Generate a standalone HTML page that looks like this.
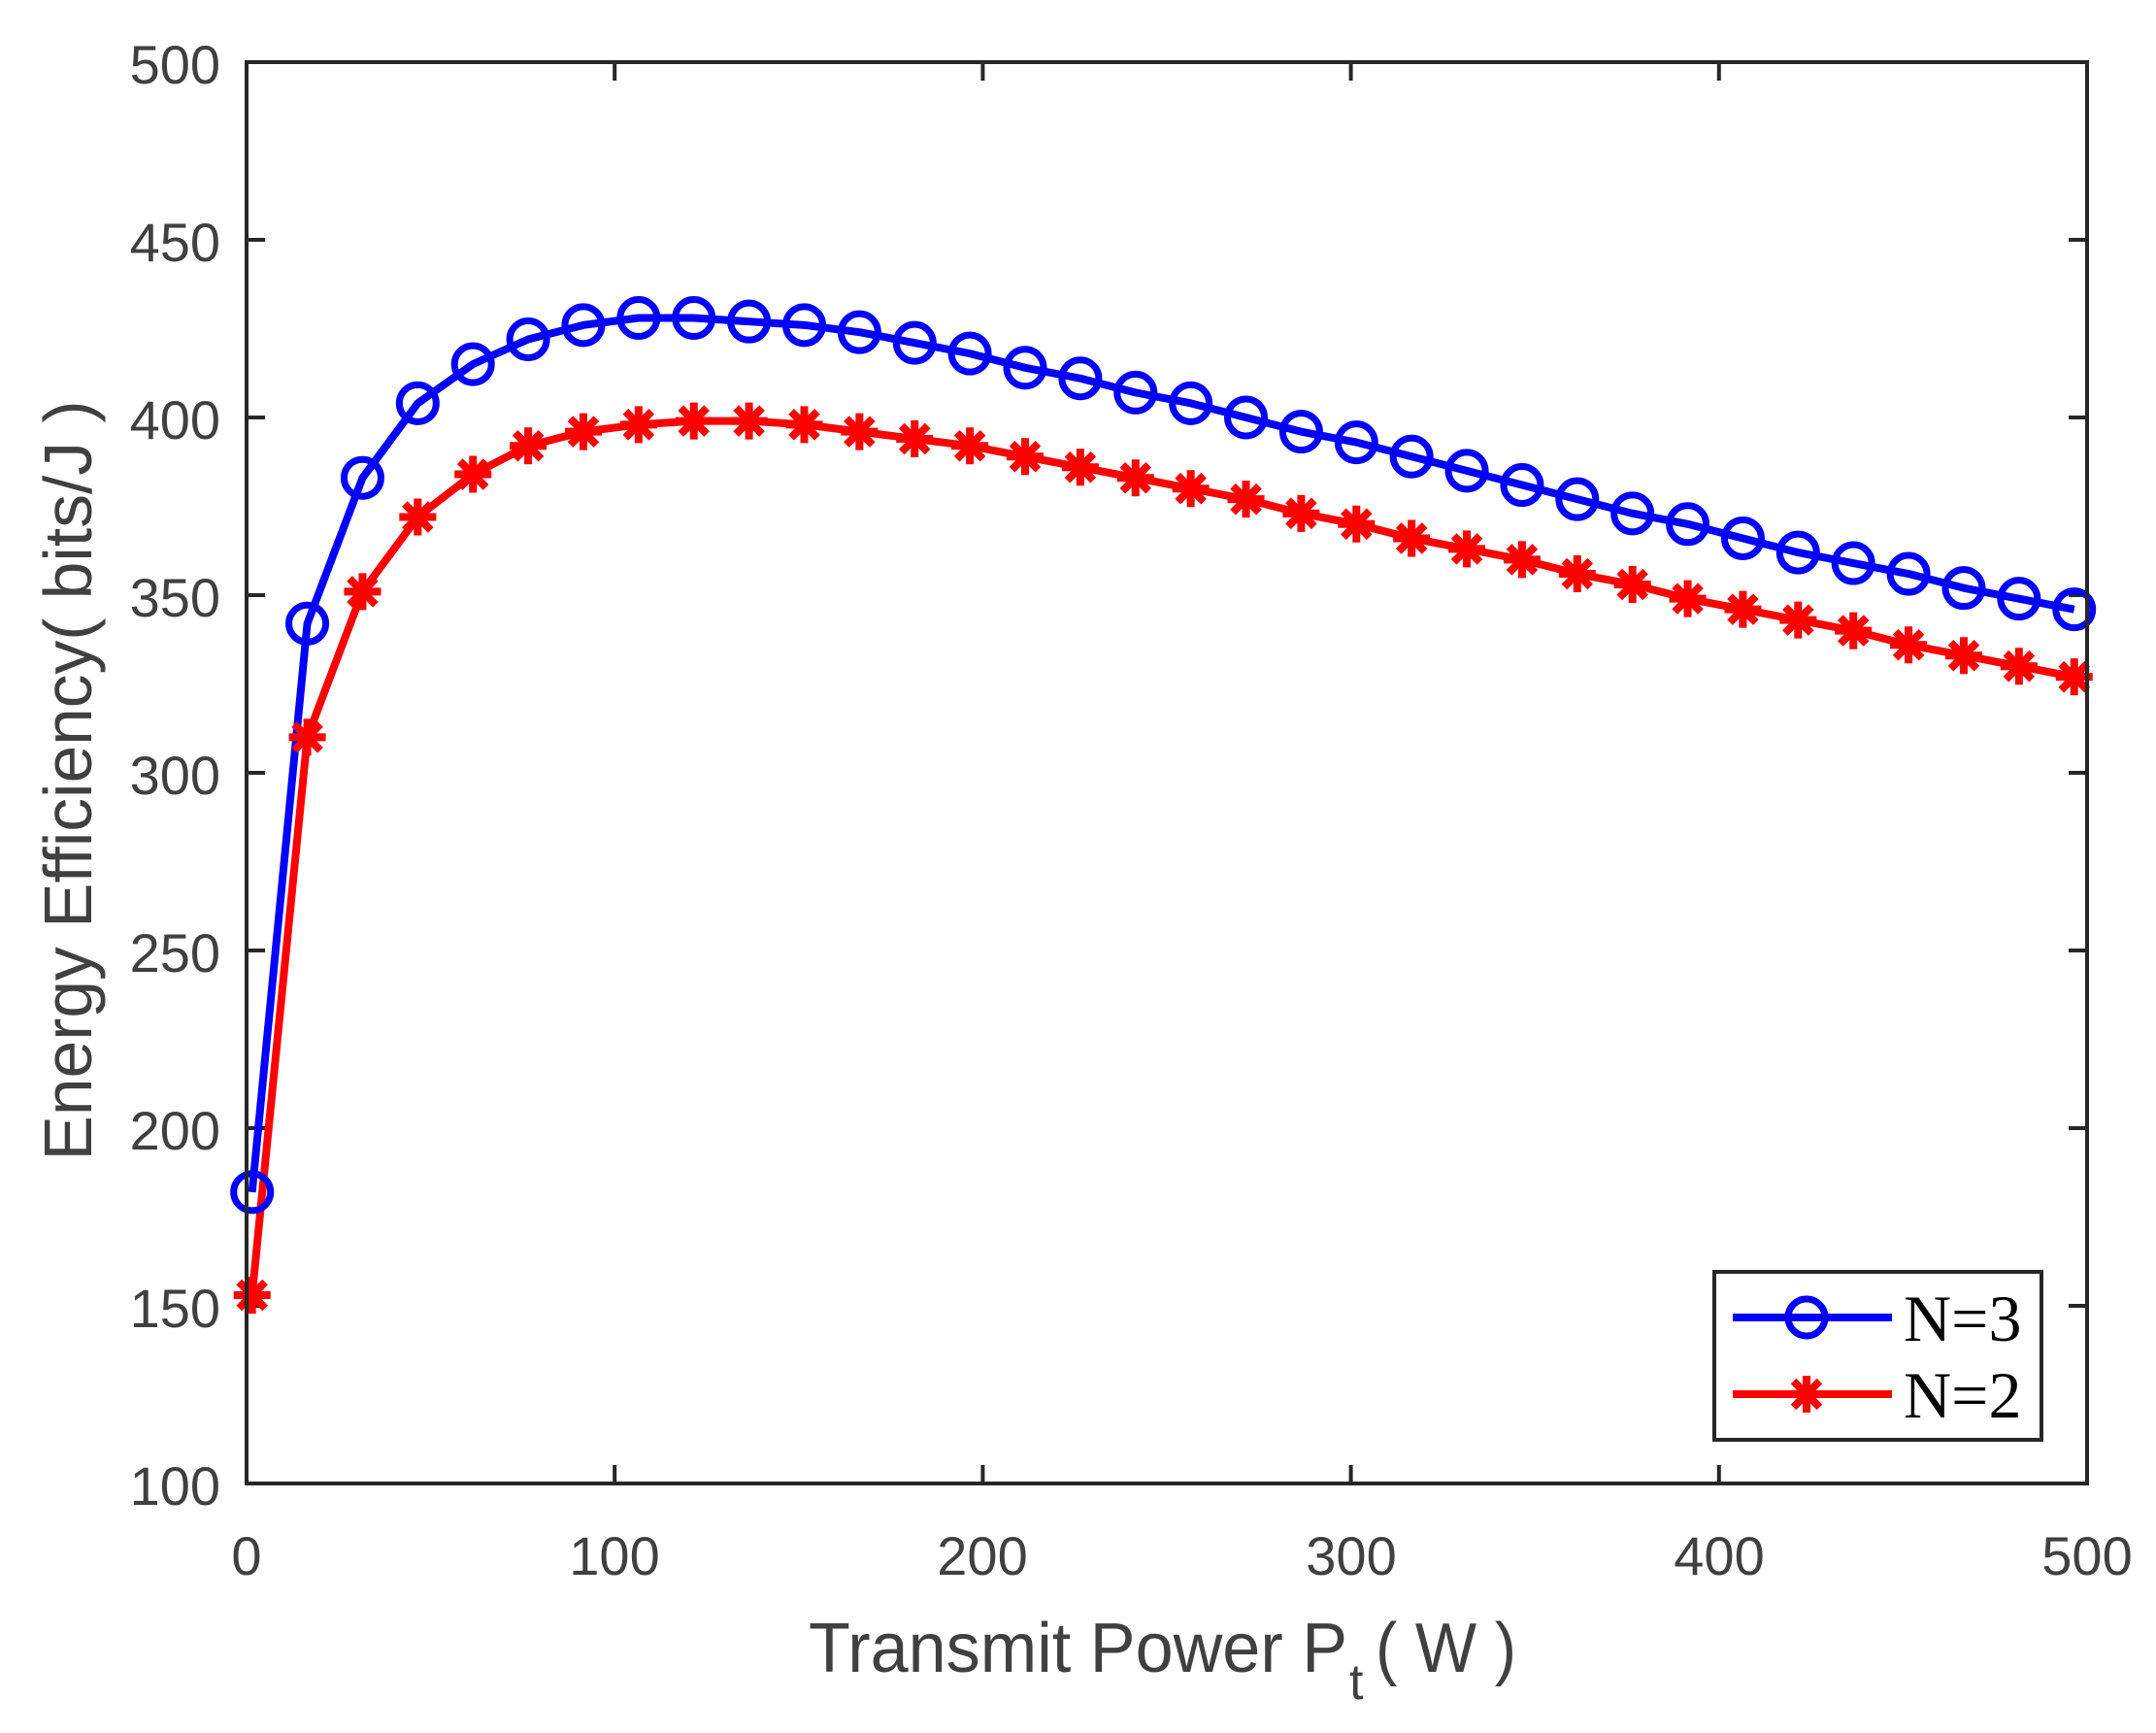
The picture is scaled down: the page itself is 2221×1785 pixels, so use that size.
<!DOCTYPE html>
<html><head><meta charset="utf-8"><style>html,body{margin:0;padding:0;background:#fff}svg{display:block}</style></head>
<body>
<svg id="s" width="2221" height="1785" viewBox="0 0 2221 1785" xmlns="http://www.w3.org/2000/svg">
<rect width="2221" height="1785" fill="#fff"/>
<g font-family="Liberation Sans, Arial, sans-serif" font-size="56" fill="#404040">
<text x="227" y="86" text-anchor="end">500</text>
<text x="227" y="269" text-anchor="end">450</text>
<text x="227" y="452" text-anchor="end">400</text>
<text x="227" y="635" text-anchor="end">350</text>
<text x="227" y="818" text-anchor="end">300</text>
<text x="227" y="1001" text-anchor="end">250</text>
<text x="227" y="1184" text-anchor="end">200</text>
<text x="227" y="1367" text-anchor="end">150</text>
<text x="227" y="1550" text-anchor="end">100</text>
<text x="254" y="1622" text-anchor="middle">0</text>
<text x="633" y="1622" text-anchor="middle">100</text>
<text x="1012" y="1622" text-anchor="middle">200</text>
<text x="1392" y="1622" text-anchor="middle">300</text>
<text x="1771" y="1622" text-anchor="middle">400</text>
<text x="2150" y="1622" text-anchor="middle">500</text>
<text x="833" y="1722" font-size="72" textLength="555" lengthAdjust="spacingAndGlyphs">Transmit Power P</text>
<text x="1390" y="1750" font-size="52">t</text>
<text x="1417" y="1722" font-size="72" textLength="145" lengthAdjust="spacingAndGlyphs">( W )</text>
<text transform="translate(94,804) rotate(-90)" text-anchor="middle" font-size="70" textLength="783" lengthAdjust="spacingAndGlyphs">Energy Efficiency( bits/J )</text>
</g>
<g id="ticks" stroke="#262626" stroke-width="4" fill="none"></g>
<g id="data"></g>
<rect x="254" y="64" width="1896" height="1464" fill="none" stroke="#262626" stroke-width="4"/>
<rect x="1766" y="1310" width="337" height="173" fill="#fff" stroke="#262626" stroke-width="4"/>
<line x1="1785" y1="1357" x2="1949" y2="1357" stroke="#0000ff" stroke-width="8"/>
<circle cx="1861" cy="1357" r="19" fill="none" stroke="#0000ff" stroke-width="7"/>
<line x1="1785" y1="1436" x2="1949" y2="1436" stroke="#ff0000" stroke-width="8"/>
<g id="legstar"></g>
<g font-family="Liberation Serif, Times New Roman, serif" font-size="68" fill="#000">
<text x="1961" y="1381">N=3</text>
<text x="1961" y="1460">N=2</text>
</g>
</svg>
<script>
function X(p){return 254+p/500*1896}function Y(v){return 1528-(v-100)*3.66}
var t=document.getElementById('ticks'),s='';
for(var i=1;i<9;i++){var y=64+i*183;s+='M254 '+y+'h19M2150 '+y+'h-19';}
for(var i=1;i<5;i++){var x=254+i*379.2;s+='M'+x+' 1528v-19M'+x+' 64v19';}
t.innerHTML='<path d="'+s+'"/>';
var B=[182,342,383,404,415,422,426,428,428,427,426,424,421,418,414,411,407,404,400,396,393,389,385,381,377,373,370,366,362,359,356,352,349,346];
var R=[153,310,351,372,384,392,396,398,399,399,398,396,394,392,389,386,383,380,377,373,370,366,363,360,356,353,349,346,343,340,336,333,330,327];
function star(x,y,c){var r=19,o='';for(var k=0;k<4;k++){var a=k*Math.PI/4;o+='<line x1="'+(x-r*Math.sin(a))+'" y1="'+(y-r*Math.cos(a))+'" x2="'+(x+r*Math.sin(a))+'" y2="'+(y+r*Math.cos(a))+'" stroke="'+c+'" stroke-width="8"/>';}return o;}
var h='',pb='',pr='';
for(var i=0;i<34;i++){var x=X(1.5+15*i);pb+=(i?'L':'M')+x+' '+Y(B[i]);pr+=(i?'L':'M')+x+' '+Y(R[i]);}
h+='<path d="'+pb+'" fill="none" stroke="#0000ff" stroke-width="8" stroke-linejoin="round"/>';
h+='<path d="'+pr+'" fill="none" stroke="#ff0000" stroke-width="8" stroke-linejoin="round"/>';
for(var i=0;i<34;i++){var x=X(1.5+15*i);h+='<circle cx="'+x+'" cy="'+Y(B[i])+'" r="19" fill="none" stroke="#0000ff" stroke-width="7"/>';h+=star(x,Y(R[i]),'#ff0000');}
document.getElementById('data').innerHTML=h;
document.getElementById('legstar').innerHTML=star(1861,1436,'#ff0000');
</script>
</body></html>
